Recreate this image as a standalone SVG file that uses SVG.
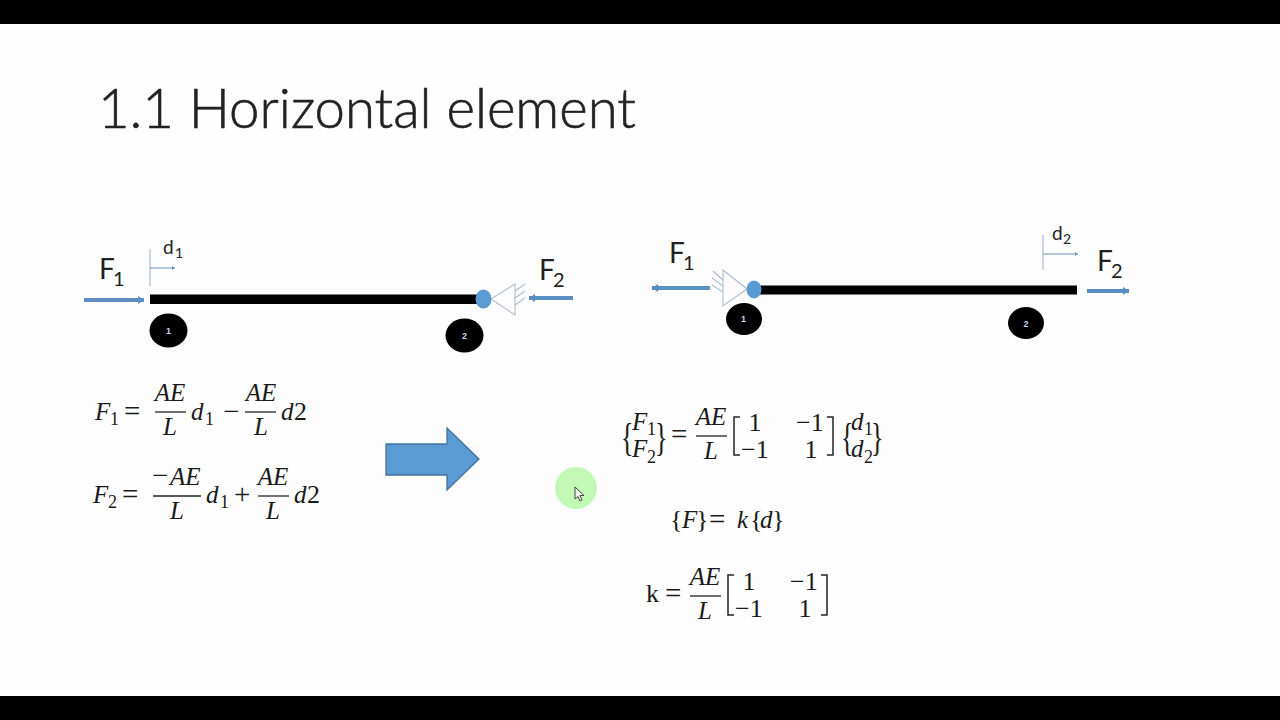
<svg xmlns="http://www.w3.org/2000/svg" width="1280" height="720" viewBox="0 0 1280 720">
<style>
.m{font-family:"Liberation Serif","DejaVu Serif",serif;font-size:25px;font-style:italic;fill:#1a1a1a}
.n{font-family:"Liberation Serif","DejaVu Serif",serif;font-size:26px;fill:#1a1a1a}
.o{font-family:"Liberation Serif","DejaVu Serif",serif;font-size:29px;fill:#1a1a1a}
.s{font-family:"Liberation Serif","DejaVu Serif",serif;font-size:18px;fill:#1a1a1a}
.l{font-family:"Lato","Open Sans",sans-serif;fill:#222}
.F{font-size:28px}.Fs{font-size:20px}
.d{font-size:19px}.ds{font-size:14px}
.c{text-anchor:middle}
.f{stroke:#222;stroke-width:1.3;fill:none}
.b{stroke:#222;stroke-width:1.5;fill:none}
.bar{fill:#000}
.node{fill:#000}
.nt{font-family:"Liberation Sans",sans-serif;font-size:9px;font-weight:bold;fill:#c8d6ea;text-anchor:middle}
.pin{fill:#5b9bd5}
.sup{fill:none;stroke:#aebccc;stroke-width:1.1}
.ar{stroke:#5b8fc4;stroke-width:4;fill:none}
.tk{stroke:#a9bdd2;stroke-width:1.2;fill:none}
.tk2{stroke:#6d8fb8;stroke-width:1;fill:none}
</style>
<defs>
<marker id="ah" markerUnits="userSpaceOnUse" markerWidth="8" markerHeight="10" refX="6" refY="4" orient="auto"><path d="M0 0L6 4L0 8Z" fill="#5b8fc4"/></marker>
<marker id="ahs" markerUnits="userSpaceOnUse" markerWidth="5" markerHeight="5" refX="3" refY="2" orient="auto"><path d="M0 0L3 2L0 4Z" fill="#6d8fb8"/></marker>
</defs>
<rect width="1280" height="720" fill="#fdfdfd"/>
<rect width="1280" height="24" fill="#000"/>
<rect y="696" width="1280" height="24" fill="#000"/>
<text id="title" x="98" y="128" font-family="Lato,'Open Sans',sans-serif" font-weight="300" font-size="55" fill="#222" stroke="#222" stroke-width="0.600" textLength="538" lengthAdjust="spacingAndGlyphs">1.1 Horizontal element</text>

<g id="connectors">
<path class="ar" d="M84 300H144" marker-end="url(#ah)"/>
<path class="ar" d="M573 298H529" marker-end="url(#ah)"/>
<path class="ar" d="M710 288H652" marker-end="url(#ah)"/>
<path class="ar" d="M1087 291H1129" marker-end="url(#ah)"/>
<path class="tk" d="M150 249V286"/>
<path class="tk2" d="M150 268H175" marker-end="url(#ahs)"/>
<path class="tk" d="M1043 235V270"/>
<path class="tk2" d="M1043 254H1078" marker-end="url(#ahs)"/>
</g>

<g id="left-bar">
<rect class="bar" x="150" y="294.500" width="330" height="9.500"/>
<path class="sup" d="M491 299L515 284V315Z"/>
<path class="sup" d="M515 291L525 284M515 298L525 291M515 305L525 298"/>
<ellipse class="pin" cx="483.500" cy="299" rx="8" ry="9.500"/>
</g>
<g id="left-node-1"><ellipse class="node" cx="168.500" cy="330.500" rx="19" ry="17"/><text class="nt" x="168.500" y="334">1</text></g>
<g id="left-node-2"><ellipse class="node" cx="464.500" cy="335.500" rx="19" ry="17"/><text class="nt" x="464.500" y="339">2</text></g>
<g id="left-labels">
<text class="l F" x="99" y="279">F</text><text class="l Fs" x="113" y="286">1</text>
<text class="l F" x="539" y="280">F</text><text class="l Fs" x="553" y="287">2</text>
<text class="l d" x="163" y="254">d</text><text class="l ds" x="175" y="258">1</text>
</g>

<g id="right-bar">
<rect class="bar" x="758" y="285.500" width="319" height="9"/>
<path class="sup" d="M747 289L723 270V306Z"/>
<path class="sup" d="M713 271L723 280M712 278L723 286M712 285L723 292"/>
<ellipse class="pin" cx="754" cy="289.500" rx="7.500" ry="9"/>
</g>
<g id="right-node-1"><ellipse class="node" cx="744" cy="319" rx="18" ry="16"/><text class="nt" x="743.500" y="322">1</text></g>
<g id="right-node-2"><ellipse class="node" cx="1026" cy="323" rx="18" ry="16"/><text class="nt" x="1026" y="327">2</text></g>
<g id="right-labels">
<text class="l F" x="669" y="263">F</text><text class="l Fs" x="683" y="270">1</text>
<text class="l F" x="1097" y="271">F</text><text class="l Fs" x="1111" y="278">2</text>
<text class="l d" x="1052" y="240">d</text><text class="l ds" x="1063" y="244">2</text>
</g>

<g id="eq-left-1">
<text class="m" x="95" y="420">F</text><text class="s" x="110" y="425">1</text><text class="o" x="124" y="421">=</text>
<text class="m c" x="170" y="401">AE</text><path class="f" d="M155 412H186"/><text class="m c" x="170" y="435">L</text>
<text class="m" x="191" y="420">d</text><text class="s" x="205" y="425">1</text><text class="o" x="223" y="421">−</text>
<text class="m c" x="261" y="401">AE</text><path class="f" d="M245 412H276"/><text class="m c" x="261" y="435">L</text>
<text class="m" x="281" y="420">d</text><text class="n" x="294" y="420">2</text>
</g>
<g id="eq-left-2">
<text class="m" x="93" y="503">F</text><text class="s" x="108" y="508">2</text><text class="o" x="122" y="504">=</text>
<text class="o" x="152" y="485">−</text><text class="m" x="170" y="485">AE</text><path class="f" d="M153 496H201"/><text class="m c" x="177" y="519">L</text>
<text class="m" x="206" y="503">d</text><text class="s" x="220" y="508">1</text><text class="o" x="234" y="504">+</text>
<text class="m c" x="273" y="485">AE</text><path class="f" d="M258 496H289"/><text class="m c" x="273" y="519">L</text>
<text class="m" x="294" y="503">d</text><text class="n" x="307" y="503">2</text>
</g>

<path id="big-arrow" d="M386 444H447V428L479 459L447 490V475H386Z" fill="#5b9bd5" stroke="#41719c" stroke-width="1.300"/>
<circle id="pointer-halo" cx="576" cy="488" r="21" fill="#c2f9b4"/>
<path id="pointer" d="M575 487V499L578 496.500L580 501L582 500L580 495.500L584 495.500Z" fill="#eee" stroke="#444" stroke-width="1"/>

<g id="eq-matrix">
<text class="n" transform="translate(621,451) scale(1,1.550)">{</text>
<text class="m" x="632" y="430">F</text><text class="s" x="647" y="435">1</text>
<text class="m" x="632" y="457">F</text><text class="s" x="647" y="463">2</text>
<text class="n" transform="translate(655,451) scale(1,1.550)">}</text>
<text class="o" x="671" y="444">=</text>
<text class="m c" x="711" y="425">AE</text><path class="f" d="M696 436H727"/><text class="m c" x="711" y="459">L</text>
<path class="b" d="M740 417H734V455H740"/>
<text class="n c" x="755" y="431">1</text><text class="n" x="796" y="431">−1</text>
<text class="n" x="741" y="458">−1</text><text class="n c" x="811" y="458">1</text>
<path class="b" d="M827 417H833V455H827"/>
<text class="n" transform="translate(841,451) scale(1,1.550)">{</text>
<text class="m" x="851" y="430">d</text><text class="s" x="864" y="435">1</text>
<text class="m" x="851" y="457">d</text><text class="s" x="864" y="463">2</text>
<text class="n" transform="translate(871,451) scale(1,1.550)">}</text>
</g>
<g id="eq-fkd">
<text class="n" x="670" y="528">{</text><text class="m" x="682" y="528">F</text><text class="n" x="696" y="528">}</text>
<text class="o" x="709" y="529">=</text><text class="m" x="737" y="528">k</text>
<text class="n" x="750" y="528">{</text><text class="m" x="760" y="528">d</text><text class="n" x="772" y="528">}</text>
</g>
<g id="eq-k">
<text class="n" x="646" y="602">k</text><text class="o" x="665" y="603">=</text>
<text class="m c" x="705" y="585">AE</text><path class="f" d="M690 596H721"/><text class="m c" x="705" y="619">L</text>
<path class="b" d="M734 575H728V615H734"/>
<text class="n c" x="749" y="590">1</text><text class="n" x="790" y="590">−1</text>
<text class="n" x="735" y="617">−1</text><text class="n c" x="805" y="617">1</text>
<path class="b" d="M821 575H827V615H821"/>
</g>
</svg>
